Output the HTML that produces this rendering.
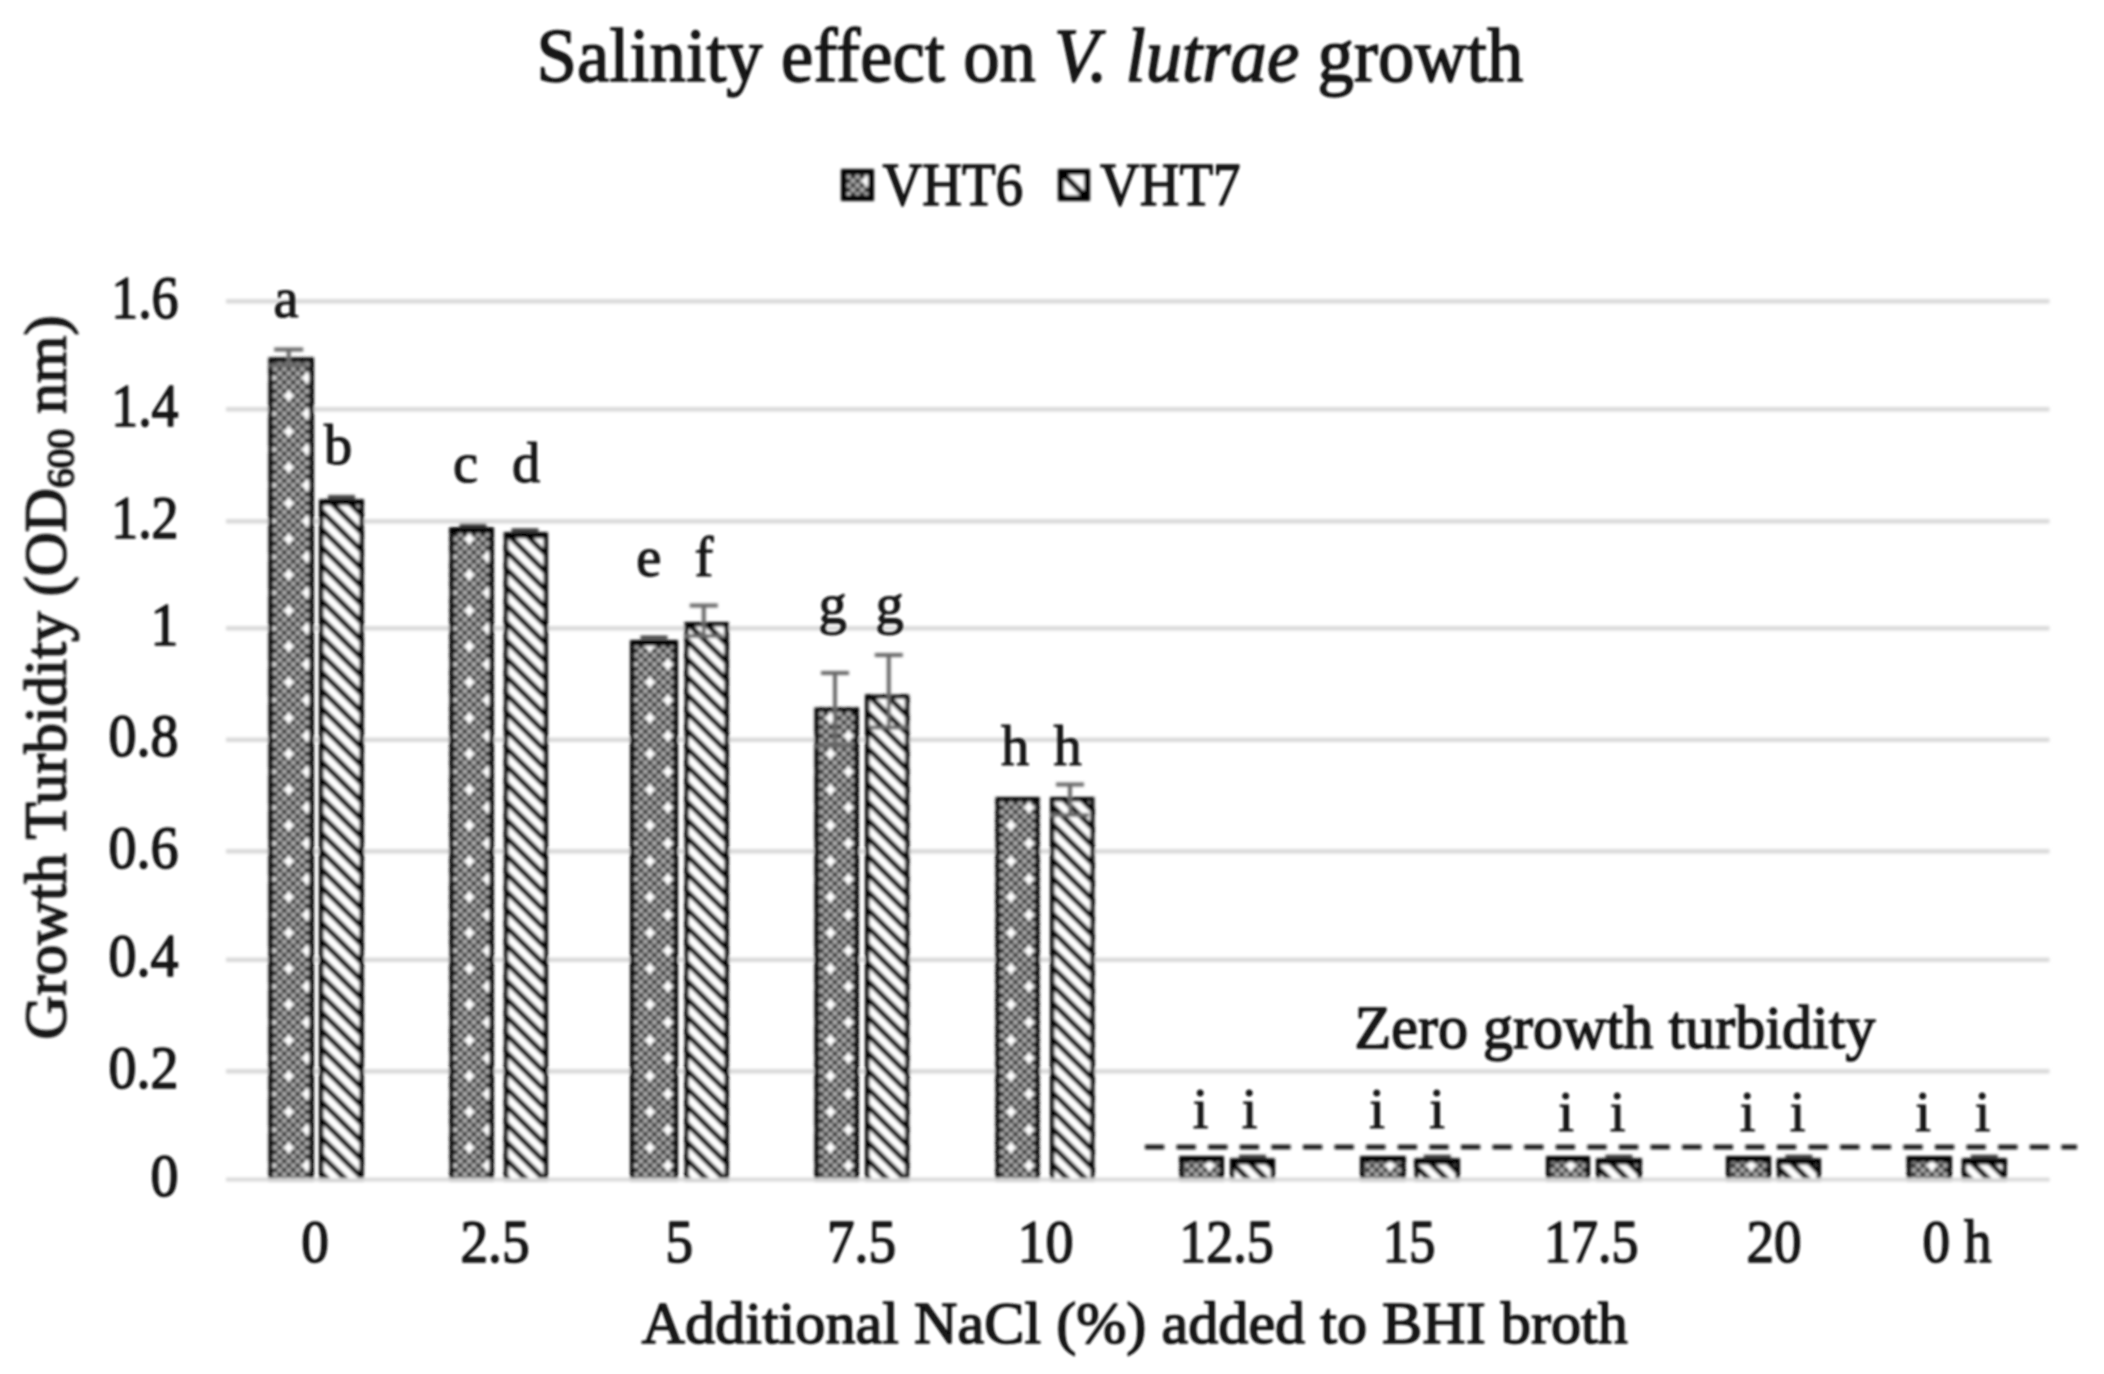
<!DOCTYPE html>
<html lang="en"><head><meta charset="utf-8"><title>Salinity effect on V. lutrae growth</title>
<style>html,body{margin:0;padding:0;background:#fff;}body{width:2104px;height:1374px;overflow:hidden;}svg{display:block;}text{font-family:"Liberation Serif", "Times New Roman", serif;fill:#121212;stroke:#121212;stroke-linejoin:round;}</style></head><body>
<svg width="2104" height="1374" viewBox="0 0 2104 1374">
<defs>
<filter id="soft" x="-2%" y="-2%" width="104%" height="104%"><feGaussianBlur stdDeviation="1.35"/></filter>
<filter id="softer" x="-2%" y="-2%" width="104%" height="104%"><feGaussianBlur stdDeviation="1.15"/></filter>
<pattern id="pa" patternUnits="userSpaceOnUse" x="286.493" y="393.512" width="36.112" height="35.805">
<rect width="36.112" height="35.805" fill="#b8b8b8"/>
<path d="M9.028 0.000h4.514v4.476h-4.514zM18.056 0.000h4.514v4.476h-4.514zM27.084 0.000h4.514v4.476h-4.514zM4.514 4.476h4.514v4.476h-4.514zM13.542 4.476h4.514v4.476h-4.514zM22.570 4.476h4.514v4.476h-4.514zM31.598 4.476h4.514v4.476h-4.514zM0.000 8.951h4.514v4.476h-4.514zM9.028 8.951h4.514v4.476h-4.514zM18.056 8.951h4.514v4.476h-4.514zM27.084 8.951h4.514v4.476h-4.514zM4.514 13.427h4.514v4.476h-4.514zM13.542 13.427h4.514v4.476h-4.514zM22.570 13.427h4.514v4.476h-4.514zM31.598 13.427h4.514v4.476h-4.514zM0.000 17.902h4.514v4.476h-4.514zM9.028 17.902h4.514v4.476h-4.514zM27.084 17.902h4.514v4.476h-4.514zM4.514 22.378h4.514v4.476h-4.514zM13.542 22.378h4.514v4.476h-4.514zM22.570 22.378h4.514v4.476h-4.514zM31.598 22.378h4.514v4.476h-4.514zM0.000 26.854h4.514v4.476h-4.514zM9.028 26.854h4.514v4.476h-4.514zM18.056 26.854h4.514v4.476h-4.514zM27.084 26.854h4.514v4.476h-4.514zM4.514 31.329h4.514v4.476h-4.514zM13.542 31.329h4.514v4.476h-4.514zM22.570 31.329h4.514v4.476h-4.514zM31.598 31.329h4.514v4.476h-4.514z" fill="#202020"/>
<path d="M-2.708 2.238L2.257 -3.670L7.222 2.238L2.257 8.146zM15.348 20.140L20.313 14.232L25.278 20.140L20.313 26.048zM33.404 2.238L38.369 -3.670L43.334 2.238L38.369 8.146zM-2.708 38.043L2.257 32.135L7.222 38.043L2.257 43.950zM33.404 38.043L38.369 32.135L43.334 38.043L38.369 43.950z" fill="#fff"/>
</pattern>
<pattern id="pb" patternUnits="userSpaceOnUse" x="0.314" y="0" width="18.056" height="17.902">
<rect width="18.056" height="17.902" fill="#fff"/>
<path d="M0.790 0L8.238 0L26.294 17.902L18.846 17.902zM-17.266 0L-9.818 0L8.238 17.902L0.790 17.902z" fill="#000"/>
</pattern>
</defs>
<rect width="2104" height="1374" fill="#fff"/>
<g filter="url(#soft)">
<rect x="226.0" y="299.1" width="1823.5" height="4.4" fill="#d9d9d9"/>
<rect x="226.0" y="407.1" width="1823.5" height="4.4" fill="#d9d9d9"/>
<rect x="226.0" y="519.1" width="1823.5" height="4.4" fill="#d9d9d9"/>
<rect x="226.0" y="626.1" width="1823.5" height="4.4" fill="#d9d9d9"/>
<rect x="226.0" y="737.6" width="1823.5" height="4.4" fill="#d9d9d9"/>
<rect x="226.0" y="849.1" width="1823.5" height="4.4" fill="#d9d9d9"/>
<rect x="226.0" y="957.6" width="1823.5" height="4.4" fill="#d9d9d9"/>
<rect x="226.0" y="1069.1" width="1823.5" height="4.4" fill="#d9d9d9"/>
<rect x="226.0" y="1177.6" width="1823.5" height="4.4" fill="#d9d9d9"/>
<rect x="268.5" y="357.5" width="45.3" height="822.0" fill="url(#pa)"/>
<rect x="270.75" y="359.75" width="40.80" height="822.75" fill="none" stroke="#000" stroke-width="4.5"/>
<rect x="319.0" y="499.5" width="44.8" height="680.0" fill="url(#pb)"/>
<rect x="321.25" y="501.75" width="40.30" height="680.75" fill="none" stroke="#000" stroke-width="4.5"/>
<rect x="319.00" y="499.50" width="44.80" height="5.8" fill="#000"/>
<rect x="449.5" y="527.5" width="44.3" height="652.0" fill="url(#pa)"/>
<rect x="451.75" y="529.75" width="39.80" height="652.75" fill="none" stroke="#000" stroke-width="4.5"/>
<rect x="449.50" y="527.50" width="44.30" height="5.8" fill="#000"/>
<rect x="503.8" y="532.5" width="44.2" height="647.0" fill="url(#pb)"/>
<rect x="506.05" y="534.75" width="39.70" height="647.75" fill="none" stroke="#000" stroke-width="4.5"/>
<rect x="503.80" y="532.50" width="44.20" height="5.8" fill="#000"/>
<rect x="630.0" y="640.0" width="48.0" height="539.5" fill="url(#pa)"/>
<rect x="632.25" y="642.25" width="43.50" height="540.25" fill="none" stroke="#000" stroke-width="4.5"/>
<rect x="630.00" y="640.00" width="48.00" height="5.8" fill="#000"/>
<rect x="684.5" y="622.0" width="44.3" height="557.5" fill="url(#pb)"/>
<rect x="686.75" y="624.25" width="39.80" height="558.25" fill="none" stroke="#000" stroke-width="4.5"/>
<rect x="814.5" y="707.5" width="44.3" height="472.0" fill="url(#pa)"/>
<rect x="816.75" y="709.75" width="39.80" height="472.75" fill="none" stroke="#000" stroke-width="4.5"/>
<rect x="865.0" y="694.5" width="44.3" height="485.0" fill="url(#pb)"/>
<rect x="867.25" y="696.75" width="39.80" height="485.75" fill="none" stroke="#000" stroke-width="4.5"/>
<rect x="995.5" y="797.0" width="44.0" height="382.5" fill="url(#pa)"/>
<rect x="997.75" y="799.25" width="39.50" height="383.25" fill="none" stroke="#000" stroke-width="4.5"/>
<rect x="1050.0" y="797.0" width="44.5" height="382.5" fill="url(#pb)"/>
<rect x="1052.25" y="799.25" width="40.00" height="383.25" fill="none" stroke="#000" stroke-width="4.5"/>
<rect x="1179.5" y="1156.0" width="44.5" height="23.5" fill="url(#pa)"/>
<rect x="1181.75" y="1158.25" width="40.00" height="24.25" fill="none" stroke="#000" stroke-width="4.5"/>
<rect x="1179.50" y="1156.00" width="44.50" height="6.0" fill="#000"/>
<rect x="1230.0" y="1158.5" width="45.0" height="21.0" fill="url(#pb)"/>
<rect x="1232.25" y="1160.75" width="40.50" height="21.75" fill="none" stroke="#000" stroke-width="4.5"/>
<rect x="1230.00" y="1158.50" width="45.00" height="6.0" fill="#000"/>
<rect x="1360.0" y="1156.0" width="45.5" height="23.5" fill="url(#pa)"/>
<rect x="1362.25" y="1158.25" width="41.00" height="24.25" fill="none" stroke="#000" stroke-width="4.5"/>
<rect x="1360.00" y="1156.00" width="45.50" height="6.0" fill="#000"/>
<rect x="1414.5" y="1158.5" width="45.5" height="21.0" fill="url(#pb)"/>
<rect x="1416.75" y="1160.75" width="41.00" height="21.75" fill="none" stroke="#000" stroke-width="4.5"/>
<rect x="1414.50" y="1158.50" width="45.50" height="6.0" fill="#000"/>
<rect x="1546.0" y="1156.0" width="44.0" height="23.5" fill="url(#pa)"/>
<rect x="1548.25" y="1158.25" width="39.50" height="24.25" fill="none" stroke="#000" stroke-width="4.5"/>
<rect x="1546.00" y="1156.00" width="44.00" height="6.0" fill="#000"/>
<rect x="1596.0" y="1158.5" width="45.8" height="21.0" fill="url(#pb)"/>
<rect x="1598.25" y="1160.75" width="41.30" height="21.75" fill="none" stroke="#000" stroke-width="4.5"/>
<rect x="1596.00" y="1158.50" width="45.80" height="6.0" fill="#000"/>
<rect x="1726.0" y="1156.0" width="45.0" height="23.5" fill="url(#pa)"/>
<rect x="1728.25" y="1158.25" width="40.50" height="24.25" fill="none" stroke="#000" stroke-width="4.5"/>
<rect x="1726.00" y="1156.00" width="45.00" height="6.0" fill="#000"/>
<rect x="1776.8" y="1158.5" width="44.2" height="21.0" fill="url(#pb)"/>
<rect x="1779.05" y="1160.75" width="39.70" height="21.75" fill="none" stroke="#000" stroke-width="4.5"/>
<rect x="1776.80" y="1158.50" width="44.20" height="6.0" fill="#000"/>
<rect x="1906.8" y="1156.0" width="45.0" height="23.5" fill="url(#pa)"/>
<rect x="1909.05" y="1158.25" width="40.50" height="24.25" fill="none" stroke="#000" stroke-width="4.5"/>
<rect x="1906.80" y="1156.00" width="45.00" height="6.0" fill="#000"/>
<rect x="1961.8" y="1158.5" width="45.0" height="21.0" fill="url(#pb)"/>
<rect x="1964.05" y="1160.75" width="40.50" height="21.75" fill="none" stroke="#000" stroke-width="4.5"/>
<rect x="1961.80" y="1158.50" width="45.00" height="6.0" fill="#000"/>
<rect x="226.0" y="1178.0" width="1823.5" height="3.6" fill="#d9d9d9"/>
<rect x="221.0" y="1181.6" width="1833.5" height="6" fill="#fff"/>
<path d="M274.2 349.5H303.2M269.7 365.5H307.7M288.7 349.5V365.5" stroke="#696969" stroke-width="4.0" fill="none"/>
<path d="M328.0 497.0H355.0" stroke="#3a3a3a" stroke-width="3.8" fill="none"/>
<path d="M459.5 525.6H486.5" stroke="#3a3a3a" stroke-width="3.8" fill="none"/>
<path d="M511.5 530.2H538.5" stroke="#3a3a3a" stroke-width="3.8" fill="none"/>
<path d="M640.5 637.5H667.5" stroke="#3a3a3a" stroke-width="3.8" fill="none"/>
<path d="M689.8 605.5H717.8M684.8 636.0H722.8M703.8 605.5V636.0" stroke="#696969" stroke-width="4.0" fill="none"/>
<path d="M821.0 673.0H849.0M816.0 746.0H854.0M835.0 673.0V746.0" stroke="#696969" stroke-width="4.0" fill="none"/>
<path d="M874.8 655.0H902.8M869.8 727.5H907.8M888.8 655.0V727.5" stroke="#696969" stroke-width="4.0" fill="none"/>
<path d="M1056.0 784.5H1084.0M1051.0 815.0H1089.0M1070.0 784.5V815.0" stroke="#696969" stroke-width="4.0" fill="none"/>
<path d="M1239.0 1156.7H1266.0" stroke="#3a3a3a" stroke-width="3.8" fill="none"/>
<path d="M1423.8 1156.7H1450.8" stroke="#3a3a3a" stroke-width="3.8" fill="none"/>
<path d="M1605.4 1156.7H1632.4" stroke="#3a3a3a" stroke-width="3.8" fill="none"/>
<path d="M1785.4 1156.7H1812.4" stroke="#3a3a3a" stroke-width="3.8" fill="none"/>
<path d="M1970.8 1156.7H1997.8" stroke="#3a3a3a" stroke-width="3.8" fill="none"/>
<path d="M1145 1147H2077" stroke="#111" stroke-width="4.6" stroke-dasharray="19.2 12.4" fill="none"/>
<rect x="841" y="169" width="33" height="32" fill="url(#pa)"/>
<rect x="844" y="172" width="27" height="26" fill="none" stroke="#000" stroke-width="6"/>
<rect x="1058" y="169" width="32" height="32" fill="#fff"/>
<path d="M1060 171L1088 199" stroke="#000" stroke-width="6"/>
<path d="M1060 192L1067 199" stroke="#000" stroke-width="4"/>
<rect x="1061" y="172" width="26" height="26" fill="none" stroke="#000" stroke-width="6"/>
</g>
<g filter="url(#softer)">
<text transform="translate(536.5 80.5) scale(0.9506 1)" font-size="76.5" text-anchor="start" stroke-width="1.4" xml:space="preserve">Salinity effect on <tspan font-style="italic">V. lutrae</tspan> growth</text>
<text transform="translate(882.5 205.0) scale(0.8950 1)" font-size="61.5" text-anchor="start" stroke-width="1.4" xml:space="preserve">VHT6</text>
<text transform="translate(1100.0 205.0) scale(0.8950 1)" font-size="61.5" text-anchor="start" stroke-width="1.4" xml:space="preserve">VHT7</text>
<text transform="translate(178.5 317.5) scale(0.8900 1)" font-size="60.5" text-anchor="end" stroke-width="1.4" xml:space="preserve">1.6</text>
<text transform="translate(178.5 425.5) scale(0.8900 1)" font-size="60.5" text-anchor="end" stroke-width="1.4" xml:space="preserve">1.4</text>
<text transform="translate(178.5 537.5) scale(0.8900 1)" font-size="60.5" text-anchor="end" stroke-width="1.4" xml:space="preserve">1.2</text>
<text transform="translate(178.5 644.5) scale(0.9250 1)" font-size="60.5" text-anchor="end" stroke-width="1.4" xml:space="preserve">1</text>
<text transform="translate(178.5 756.0) scale(0.9250 1)" font-size="60.5" text-anchor="end" stroke-width="1.4" xml:space="preserve">0.8</text>
<text transform="translate(178.5 867.5) scale(0.9250 1)" font-size="60.5" text-anchor="end" stroke-width="1.4" xml:space="preserve">0.6</text>
<text transform="translate(178.5 976.0) scale(0.9250 1)" font-size="60.5" text-anchor="end" stroke-width="1.4" xml:space="preserve">0.4</text>
<text transform="translate(178.5 1087.5) scale(0.9250 1)" font-size="60.5" text-anchor="end" stroke-width="1.4" xml:space="preserve">0.2</text>
<text transform="translate(178.5 1196.0) scale(0.9250 1)" font-size="60.5" text-anchor="end" stroke-width="1.4" xml:space="preserve">0</text>
<text transform="translate(315.0 1262.0) scale(0.9050 1)" font-size="61.0" text-anchor="middle" stroke-width="1.4" xml:space="preserve">0</text>
<text transform="translate(495.0 1262.0) scale(0.9050 1)" font-size="61.0" text-anchor="middle" stroke-width="1.4" xml:space="preserve">2.5</text>
<text transform="translate(679.3 1262.0) scale(0.9050 1)" font-size="61.0" text-anchor="middle" stroke-width="1.4" xml:space="preserve">5</text>
<text transform="translate(861.5 1262.0) scale(0.9050 1)" font-size="61.0" text-anchor="middle" stroke-width="1.4" xml:space="preserve">7.5</text>
<text transform="translate(1045.5 1262.0) scale(0.9200 1)" font-size="61.0" text-anchor="middle" stroke-width="1.4" xml:space="preserve">10</text>
<text transform="translate(1226.5 1262.0) scale(0.8850 1)" font-size="61.0" text-anchor="middle" stroke-width="1.4" xml:space="preserve">12.5</text>
<text transform="translate(1409.0 1262.0) scale(0.8650 1)" font-size="61.0" text-anchor="middle" stroke-width="1.4" xml:space="preserve">15</text>
<text transform="translate(1591.3 1262.0) scale(0.8850 1)" font-size="61.0" text-anchor="middle" stroke-width="1.4" xml:space="preserve">17.5</text>
<text transform="translate(1774.0 1262.0) scale(0.9050 1)" font-size="61.0" text-anchor="middle" stroke-width="1.4" xml:space="preserve">20</text>
<text transform="translate(1957.0 1262.0) scale(0.9050 1)" font-size="61.0" text-anchor="middle" stroke-width="1.4" xml:space="preserve">0 h</text>
<text transform="translate(286.0 317.0) scale(1.0000 1)" font-size="56.5" text-anchor="middle" stroke-width="1.0" xml:space="preserve">a</text>
<text transform="translate(338.0 464.0) scale(1.0000 1)" font-size="56.5" text-anchor="middle" stroke-width="1.0" xml:space="preserve">b</text>
<text transform="translate(465.5 482.0) scale(1.0000 1)" font-size="56.5" text-anchor="middle" stroke-width="1.0" xml:space="preserve">c</text>
<text transform="translate(526.0 482.0) scale(1.0000 1)" font-size="56.5" text-anchor="middle" stroke-width="1.0" xml:space="preserve">d</text>
<text transform="translate(648.8 576.0) scale(1.0000 1)" font-size="56.5" text-anchor="middle" stroke-width="1.0" xml:space="preserve">e</text>
<text transform="translate(703.8 576.0) scale(1.0000 1)" font-size="56.5" text-anchor="middle" stroke-width="1.0" xml:space="preserve">f</text>
<text transform="translate(832.5 623.0) scale(1.0000 1)" font-size="56.5" text-anchor="middle" stroke-width="1.0" xml:space="preserve">g</text>
<text transform="translate(889.5 623.0) scale(1.0000 1)" font-size="56.5" text-anchor="middle" stroke-width="1.0" xml:space="preserve">g</text>
<text transform="translate(1015.0 764.5) scale(1.0000 1)" font-size="56.5" text-anchor="middle" stroke-width="1.0" xml:space="preserve">h</text>
<text transform="translate(1067.5 764.5) scale(1.0000 1)" font-size="56.5" text-anchor="middle" stroke-width="1.0" xml:space="preserve">h</text>
<text transform="translate(1200.5 1127.5) scale(1.0000 1)" font-size="56.5" text-anchor="middle" stroke-width="1.0" xml:space="preserve">i</text>
<text transform="translate(1249.5 1127.5) scale(1.0000 1)" font-size="56.5" text-anchor="middle" stroke-width="1.0" xml:space="preserve">i</text>
<text transform="translate(1377.0 1127.5) scale(1.0000 1)" font-size="56.5" text-anchor="middle" stroke-width="1.0" xml:space="preserve">i</text>
<text transform="translate(1437.0 1127.5) scale(1.0000 1)" font-size="56.5" text-anchor="middle" stroke-width="1.0" xml:space="preserve">i</text>
<text transform="translate(1566.0 1131.0) scale(1.0000 1)" font-size="56.5" text-anchor="middle" stroke-width="1.0" xml:space="preserve">i</text>
<text transform="translate(1617.5 1131.0) scale(1.0000 1)" font-size="56.5" text-anchor="middle" stroke-width="1.0" xml:space="preserve">i</text>
<text transform="translate(1747.5 1131.0) scale(1.0000 1)" font-size="56.5" text-anchor="middle" stroke-width="1.0" xml:space="preserve">i</text>
<text transform="translate(1797.5 1131.0) scale(1.0000 1)" font-size="56.5" text-anchor="middle" stroke-width="1.0" xml:space="preserve">i</text>
<text transform="translate(1923.0 1131.0) scale(1.0000 1)" font-size="56.5" text-anchor="middle" stroke-width="1.0" xml:space="preserve">i</text>
<text transform="translate(1982.5 1131.0) scale(1.0000 1)" font-size="56.5" text-anchor="middle" stroke-width="1.0" xml:space="preserve">i</text>
<text transform="translate(1354.5 1047.5) scale(0.9700 1)" font-size="62.0" text-anchor="start" stroke-width="1.4" xml:space="preserve">Zero growth turbidity</text>
<text transform="translate(641.5 1342.5) scale(1.0120 1)" font-size="59.5" text-anchor="start" stroke-width="1.4" xml:space="preserve">Additional NaCl (%) added to BHI broth</text>
<text transform="translate(65.5 1039.5) rotate(-90) scale(1.041 1)" font-size="58.5" stroke-width="1.4" xml:space="preserve">Growth Turbidity (OD<tspan font-size="38" dy="8">600</tspan><tspan dy="-8"> nm)</tspan></text>
</g>
</svg></body></html>
